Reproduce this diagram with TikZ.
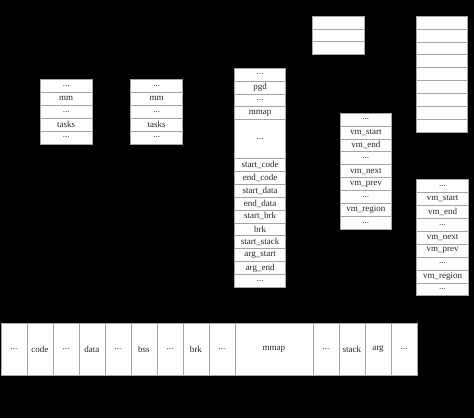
\documentclass[tikz,border=0pt]{standalone}
\usepackage{fontspec}
\setmainfont{Liberation Serif}
\newcommand\ellip{...}
\definecolor{sepgray}{RGB}{165,165,165}
\tikzset{
  cell/.style={draw=sepgray, line width=0.7pt, fill=white, inner sep=0pt, anchor=north west,
    minimum height=12.9pt, font=\fontsize{9}{10}\selectfont, text=black!85},
}
\begin{document}
\begin{tikzpicture}[x=1pt,y=-1pt]
\fill[black] (0,0) rectangle (474,418);
\useasboundingbox (0,0) rectangle (474,418);
% task_struct boxes
\foreach \t [count=\i from 0] in {\ellip,mm,\ellip,tasks,\ellip}
  \node[cell, minimum width=51.7pt] (tsa-\i) at (40,79+\i*12.9) {\t};
\foreach \t [count=\i from 0] in {\ellip,mm,\ellip,tasks,\ellip}
  \node[cell, minimum width=52pt] (tsb-\i) at (130.3,79+\i*12.9) {\t};
% mm_struct
\foreach \t [count=\i from 0] in {\ellip,pgd,\ellip,mmap}
  \node[cell, minimum width=51pt] (mm-\i) at (234.3,67.7+\i*12.9) {\t};
\node[cell, minimum width=51pt, minimum height=38.7pt] (mm-big) at (234.3,119.3) {\ellip};
\foreach \t [count=\i from 0] in {start\_code,end\_code,start\_data,end\_data,start\_brk,brk,start\_stack,arg\_start,arg\_end,\ellip}
  \node[cell, minimum width=51pt] (mmb-\i) at (234.3,158+\i*12.9) {\t};
% top empty boxes
\foreach \i in {0,1,2}
  \node[cell, minimum width=52pt, minimum height=12.8pt] (pg-\i) at (311.7,15.7+\i*12.8) {};
\foreach \i in {0,...,8}
  \node[cell, minimum width=51pt] (rt-\i) at (415.7,15.7+\i*12.9) {};
% vm_area_struct boxes
\foreach \t [count=\i from 0] in {\ellip,vm\_start,vm\_end,\ellip,vm\_next,vm\_prev,\ellip,vm\_region,\ellip}
  \node[cell, minimum width=51.6pt] (vma-\i) at (339.7,112.7+\i*12.9) {\t};
\foreach \t [count=\i from 0] in {\ellip,vm\_start,vm\_end,\ellip,vm\_next,vm\_prev,\ellip,vm\_region,\ellip}
  \node[cell, minimum width=51.7pt] (vmb-\i) at (416.3,179.3+\i*12.9) {\t};
% address space bar
\foreach \t [count=\i from 0] in {\ellip,code,\ellip,data,\ellip,bss,\ellip,brk,\ellip}
  \node[cell, minimum width=26pt, minimum height=51.4pt] (as-\i) at (0.6+\i*26,323.3) {\t};
\node[cell, minimum width=78pt, minimum height=51.4pt] (as-mmap) at (234.6,323.3) {mmap};
\foreach \t [count=\i from 0] in {\ellip,stack,arg,\ellip}
  \node[cell, minimum width=26pt, minimum height=51.4pt] (ast-\i) at (312.6+\i*26,323.3) {\t};
\end{tikzpicture}
\end{document}
